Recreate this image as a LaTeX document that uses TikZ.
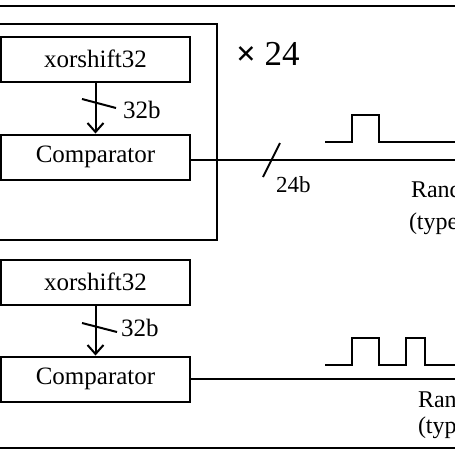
\documentclass[tikz,border=0pt]{standalone}
\usepackage{fontspec}
\setmainfont{Liberation Serif}
\usetikzlibrary{arrows.meta}
\tikzset{>={Straight Barb[length=9pt,width=16pt]},
  blk/.style={draw,line width=2pt,minimum width=189pt,minimum height=45pt,inner sep=0pt},
  lbl/.style={inner sep=0pt,anchor=base west}}

\begin{document}
\begin{tikzpicture}[x=1pt,y=-1pt,line width=2pt,font=\fontsize{25}{30}\selectfont]
    \useasboundingbox (0,0) rectangle (455,455);
    \clip (0,0) rectangle (455,455);
    \draw (0,6) -- (455,6);
    \draw (0,448) -- (455,448);
    % replicated lane
    \draw (-10,24) rectangle (217,240);
    \node [lbl,font=\fontsize{35}{40}\selectfont] (times) at (235,65) {\textbf{×} 24};
    \node [blk] (xor1) at (95.5,59) {xorshift32};
    \node [blk] (cmp1) at (95.5,157) {Comparator};
    \draw [->] (xor1.south) -- (cmp1.north);
    \draw (82,99) -- (116,108) node [lbl] (w1) at (122,118) {32b};
    \coordinate (out1) at (455,160);
    \draw ([yshift=-3pt]cmp1.east) -- (out1);
    \draw (263,177) -- (280,143) node [lbl,font=\fontsize{23}{28}\selectfont] (w3) at (275,192) {24b};
    \draw (325,142) -| (352,115) -| (379,142) -- (455,142);
    \node [lbl,font=\fontsize{24}{28}\selectfont] (rnd1) at (410,197) {Random};
    \node [lbl,font=\fontsize{24}{28}\selectfont] (typ1) at (408,229) {(type};
    % single lane
    \node [blk] (xor2) at (95.5,282) {xorshift32};
    \node [blk] (cmp2) at (95.5,379) {Comparator};
    \draw [->] (xor2.south) -- (cmp2.north);
    \draw (82,323) -- (117,332) node [lbl] (w2) at (120,336) {32b};
    \coordinate (out2) at (455,379);
    \draw (cmp2.east) -- (out2);
    \draw (325,365) -| (352,338) -| (379,365) -| (406,338) -| (425,365) -- (455,365);
    \node [lbl,font=\fontsize{24}{28}\selectfont] (rnd2) at (417,407) {Random};
    \node [lbl,font=\fontsize{24}{28}\selectfont] (typ2) at (417,433) {(type};
\end{tikzpicture}
\end{document}
